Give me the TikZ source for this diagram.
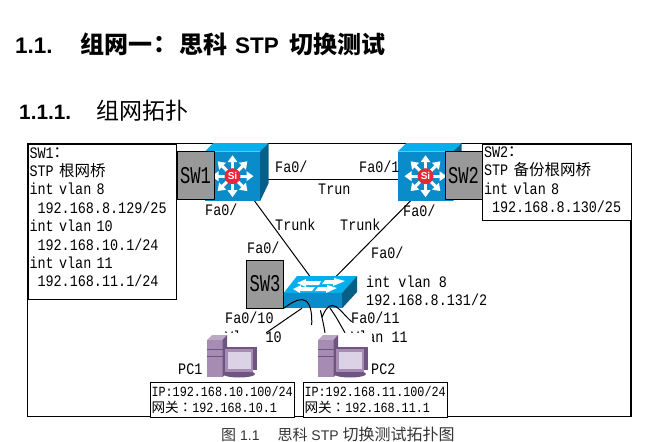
\documentclass[tikz,border=0pt]{standalone}
\usepackage{fontspec}
\usepackage{graphicx}
\usetikzlibrary{arrows.meta,backgrounds}

\setmonofont[FakeStretch=0.84]{Liberation Mono}
\setsansfont{Liberation Sans}
\newfontfamily\cjk[Scale=0.97]{Noto Sans CJK SC}
\newfontfamily\cjkcolon[Scale=0.97]{Noto Sans CJK TC}
\newfontfamily\headcjk{Noto Sans CJK SC}
\newfontfamily\headcolon{Noto Sans CJK TC}

\definecolor{facefront}{HTML}{0A8CCB}
\definecolor{facetop}{HTML}{06AEEE}
\definecolor{faceside}{HTML}{055F86}
\definecolor{pcbody}{HTML}{A68BB2}
\definecolor{pcdark}{HTML}{6E5480}
\definecolor{pcscreen}{HTML}{DCD2E6}

% top and side faces of a switch, then its arrows
\newcommand{\corefaces}[1]{
	\fill[facetop] (#1.north west) -- ++(8.5,-8.5) -- ++(55,0) -- (#1.north east) -- cycle;
	\fill[faceside] (#1.north east) -- ++(8.5,-8.5) -- ++(0,40) -- (#1.south east) -- cycle;
	\foreach \a in {0,45,...,315}
		\draw[corearrow] (#1.center) -- ++(\a:21);
}
\newcommand{\drawpc}[1]{
	\begin{scope}[shift={(#1,335)}]
		\fill[pcbody!75!white] (0,5) -- (5,0) -- (20,0) -- (15.5,5) -- cycle;
		\fill[pcbody] (0,5) rectangle (15.5,42);
		\fill[pcdark] (15.5,5) -- (20,0) -- (20,38) -- (15.5,42) -- cycle;
		\draw[pcdark, thick] (0,14) -- (15.5,14);
		\draw[pcdark, thick] (0,21) -- (15.5,21);
		\fill[pcdark] (32,39) ellipse (16 and 3.5);
		\fill[pcdark] (19,12) rectangle (50,35);
		\fill[pcbody] (18,14) rectangle (46,36.5);
		\fill[pcscreen] (21,17) rectangle (44,33.5);
	\end{scope}
}

\begin{document}
\begin{tikzpicture}[x=1pt, y=-1pt,
	frame/.style = {draw, line width=1.1pt},
	infobox/.style = {draw, fill=white, line width=1.1pt, anchor=north west, align=left, inner xsep=1.5pt,
		inner ysep=0pt, font=\ttfamily\fontsize{16}{18.4}\selectfont},
	ipbox/.style = {draw, fill=white, line width=1.1pt, minimum width=144pt, minimum height=34.5pt, align=left,
		anchor=north west, inner xsep=1.5pt, inner ysep=0pt, font=\ttfamily\fontsize{14}{16.5}\selectfont},
	namebox/.style = {draw, fill=black!40, line width=1pt, minimum width=37pt, minimum height=48pt, inner sep=0pt,
		font=\ttfamily\fontsize{24}{24}\selectfont},
	corefront/.style = {fill=facefront, minimum width=55pt, minimum height=49pt, inner sep=0pt},
	corearrow/.style = {white, line width=3pt, -{Triangle[width=9.5pt,length=7pt]}},
	sifront/.style = {circle, fill=red!65!purple!85!white, text=white, inner sep=0pt, minimum size=16pt,
		font=\sffamily\bfseries\fontsize{10}{10}\selectfont},
	accfront/.style = {fill=facefront, minimum width=58pt, minimum height=15pt, inner sep=0pt},
	pcback/.style = {fill=white, minimum height=45pt, inner sep=0pt},
	port/.style = {anchor=base west, inner sep=0pt, font=\ttfamily\fontsize{16}{18}\selectfont},
	link/.style = {line width=1pt},
	headone/.style = {anchor=base west, inner sep=0pt, font=\sffamily\bfseries\fontsize{22.5}{24}\selectfont},
	headtwo/.style = {anchor=base west, inner sep=0pt, font=\sffamily\bfseries\fontsize{20.8}{24}\selectfont}]

	\useasboundingbox (0,0) rectangle (662,442);

	% Headings
	\node (headnum) [headone] at (15,53) {1.1.};
	\node (headtext) [headone] at (80,53) {{\headcjk\fontsize{24}{24}\selectfont 组网一}\hspace{-5pt}{\headcolon\fontsize{24}{24}\selectfont ：}\hspace{8pt}{\headcjk\fontsize{24}{24}\selectfont 思科}\hspace{8pt}STP\hspace{11pt}{\headcjk\fontsize{24}{24}\selectfont 切换测试}};
	\node (subnum) [headtwo] at (19,119) {1.1.1.};
	\node (subtext) [anchor=base west, inner sep=0pt] at (96,119) {\headcjk\fontsize{23}{24}\selectfont 组网拓扑};

	\draw[frame] (27.5,143.5) rectangle (631,416.5);

	% Core switches
	\node (sw1) [corefront] at (232.5,176.2) {};
	\node (sw2) [corefront] at (425.5,176.2) {};
	\corefaces{sw1}
	\corefaces{sw2}
	\node (si1) [sifront] at (sw1) {Si};
	\node (si2) [sifront] at (sw2) {Si};

	\node (name1) [namebox] at (195.5,175.5) {\scalebox{0.85}[1]{SW1}};
	\node (name2) [namebox] at (463.5,175.5) {\scalebox{0.85}[1]{SW2}};

	\node (info1) [infobox, text width=145pt, minimum height=155.5pt] at (27.5,143.5) {SW1\hspace{-4pt}{\cjkcolon ：}\\STP {\cjk 根网桥}\\int vlan 8\\\hspace*{8pt}192.168.8.129/25\\int vlan 10\\\hspace*{8pt}192.168.10.1/24\\int vlan 11\\\hspace*{8pt}192.168.11.1/24\rule[-9.4pt]{0pt}{0pt}};
	\node (info2) [infobox, text width=146pt, minimum height=76.5pt] at (482,143.5) {SW2\hspace{-4pt}{\cjkcolon ：}\\STP {\cjk 备份根网桥}\\int vlan 8\\\hspace*{8pt}192.168.8.130/25\rule[-5.4pt]{0pt}{0pt}};

	% Access switch
	\node (sw3) [accfront] at (313,300.5) {};
	\fill[facetop] (sw3.north west) -- (297,276) -- (357,276) -- (sw3.north east) -- cycle;
	\fill[faceside] (sw3.north east) -- (357,276) -- (357,292) -- (sw3.south east) -- cycle;
	\fill[white] (297,283) -- (306,279) -- (306,281) -- (321,281) -- (319,285) -- (306,285) -- (306,287) -- cycle;
	\fill[white] (345,281) -- (334,278) -- (334,280) -- (325,280) -- (322,284) -- (333,284) -- (333,286) -- cycle;
	\fill[white] (293,289) -- (301,285) -- (301,287) -- (315,287) -- (312,291) -- (300,291) -- (300,293) -- cycle;
	\fill[white] (337,288) -- (327,285) -- (327,287) -- (318,287) -- (315,291) -- (326,291) -- (326,293) -- cycle;
	\node (name3) [namebox] at (265,284) {\scalebox{0.85}[1]{SW3}};

	\begin{scope}[on background layer]
		\draw[link] ([yshift=-3pt]sw1.east) -- ([yshift=-3pt]sw2.west);
		\draw[link] (sw1.south) ++(22,0) -- ([xshift=9pt]sw3.north);
		\draw[link] (sw2.south) ++(-15,0) -- ([xshift=7pt]sw3.north);
	\end{scope}

	% Ports towards the hosts
	\coordinate (drop1) at (311.7,325);
	\coordinate (drop2) at (351.7,321.7);

	\node (pc1) [pcback, minimum width=66pt] at (233,355.5) {};
	\node (pc2) [pcback, minimum width=56pt] at (344,355.5) {};

	\draw[link] (sw3.south west) .. controls (295,300) and (313,288) .. (drop1);
	\draw[link] ([xshift=-11pt]sw3.south) -- (pc1.north east);
	\draw[link] ([xshift=9pt,yshift=-8pt]sw3.south) .. controls (318,302) and (322,315) .. ([xshift=-19pt]pc2.north);
	\draw[link] ([xshift=9pt,yshift=-9pt]sw3.south) .. controls (332,293) and (340,312) .. (drop2);
	\draw[link] ([xshift=17pt]sw3.south) .. controls (336,316) and (341,326) .. ([xshift=1pt]pc2.north);

	% Descriptions
	\node (fa1) [port] at (275,172) {Fa0/};
	\node (fa2) [port] at (359,172) {Fa0/1};
	\node (trun) [port] at (318,194) {Trun};
	\node (fa3) [port] at (205,215) {Fa0/};
	\node (trunk1) [port] at (275,230) {Trunk};
	\node (fa4) [port] at (247,253) {Fa0/};
	\node (trunk2) [port] at (340,230) {Trunk};
	\node (fa5) [port] at (403,216) {Fa0/};
	\node (fa6) [port] at (371,258) {Fa0/};
	\node (vlan8) [port] at (366,287) {int vlan 8};
	\node (addr3) [port] at (366,305) {192.168.8.131/2};
	\node (fa10) [port] at (225,323) {Fa0/10};
	\node (fa11) [port] at (351,323) {Fa0/11};
	\node (vlan10) [port] at (225,342) {Vlan 10};
	\node (vlan11) [port] at (351,342) {Vlan 11};

	\fill[white] (pc1.north west) rectangle (pc1.south east);
	\fill[white] (pc2.north west) rectangle (pc2.south east);
	\drawpc{207}
	\drawpc{318}

	\node (pcname1) [port] at (178,374) {PC1};
	\node (pcname2) [port] at (371,374) {PC2};

	\node (ip1) [ipbox] at (149.5,382) {IP:192.168.10.100/24\\{\cjk 网关}{\cjkcolon ：}192.168.10.1};
	\node (ip2) [ipbox] at (302.5,382) {IP:192.168.11.100/24\\{\cjk 网关}{\cjkcolon ：}192.168.11.1};

	\node (caption) [anchor=base west, inner sep=0pt, text=black!80, font=\sffamily\fontsize{14}{16}\selectfont] at (221,440)
		{{\headcjk\fontsize{15}{16}\selectfont 图} 1.1\hspace{18pt}{\headcjk\fontsize{15}{16}\selectfont 思科} STP {\headcjk\fontsize{16}{16}\selectfont 切换测试拓扑图}};
\end{tikzpicture}
\end{document}
